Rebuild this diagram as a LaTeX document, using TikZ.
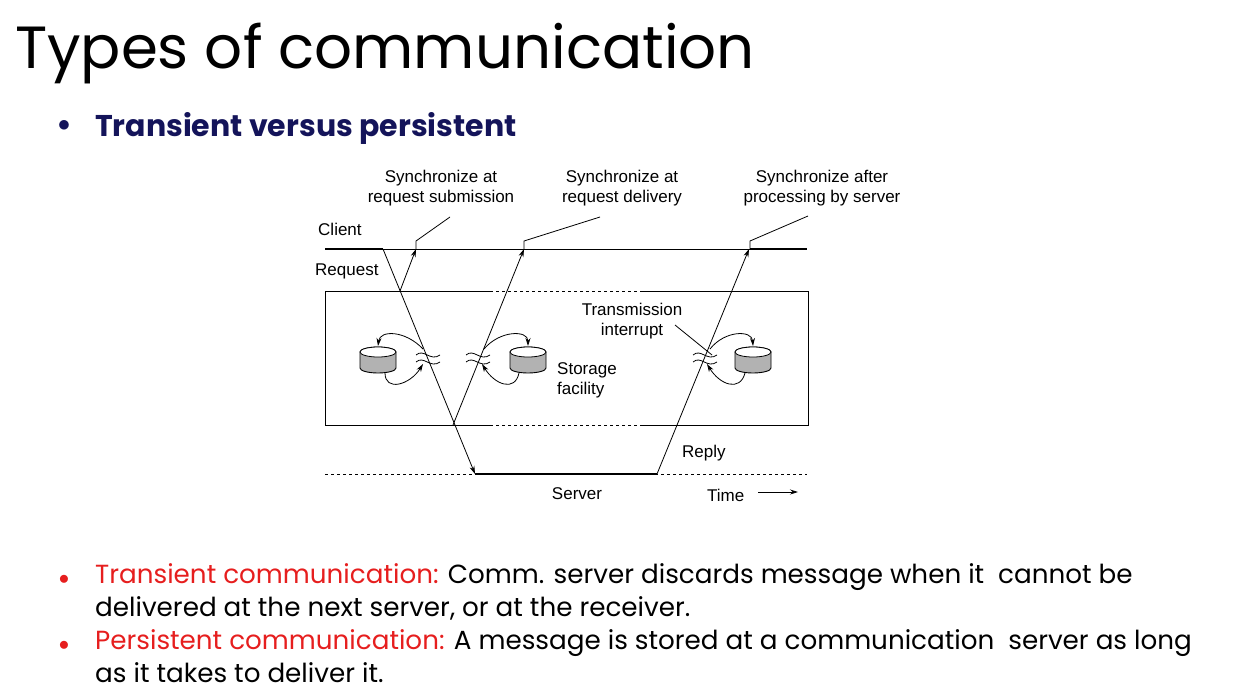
\documentclass[tikz,border=0pt]{standalone}
\usepackage{fontspec}
\setmainfont{Liberation Sans}
\newfontfamily\gothic{Poppins}
\usetikzlibrary{arrows.meta}
\definecolor{navy}{RGB}{20,20,90}
\definecolor{slred}{RGB}{230,30,30}
\begin{document}
\begin{tikzpicture}[x=1pt,y=-1pt,
  lbl/.style={font=\fontsize{17}{20}\selectfont, inner sep=0pt, align=center},
  ln/.style={line width=0.8pt},
  thick line/.style={line width=2pt},
  arr/.style={ln,-{Stealth[length=8pt,width=5pt]}},
  cyl/.style={draw,fill=gray!60,line width=0.9pt},
  body/.style={font=\gothic\fontsize{26.2}{33}\selectfont, inner sep=0pt, anchor=north west, align=left}]
\useasboundingbox (0,0) rectangle (1234,696);
\node[anchor=base west,inner sep=0pt,font=\gothic\fontsize{59.5}{60}\selectfont] (title) at (15,68) {Types of communication};
\node[anchor=base west,inner sep=0pt,font=\gothic\bfseries\fontsize{30}{30}\selectfont,text=navy] (sub) at (95,136) {Transient versus persistent};
\node[font=\gothic\fontsize{24}{24}\selectfont,text=navy] (b0) at (64,126) {$\bullet$};
% lines
\coordinate (c0) at (325,249); \coordinate (c1) at (807,249);
\draw[ln] (c0) -- (c1);
\draw[thick line] (325,249) -- (383,249);
\draw[thick line] (750,249) -- (807,249);
\draw[ln] (490,291) -- (325,291) -- (325,425) -- (490,425);
\draw[ln] (643,291) -- (808,291) -- (808,425) -- (643,425);
\draw[ln,dashed] (490,291) -- (643,291);
\draw[ln,dashed] (643,425) -- (490,425);
\draw[ln,dashed] (325,474) -- (807,474);
\draw[thick line] (475,474) -- (657,474);
% messages
\coordinate (rq0) at (383,249); \coordinate (rq1) at (475,474);
\draw[arr] (rq0) -- (rq1);
\coordinate (a0) at (400,291); \coordinate (t1) at (416,249);
\draw[arr] (a0) -- (t1);
\coordinate (b0s) at (453,425); \coordinate (t2) at (524,249);
\draw[arr] (b0s) -- (t2);
\coordinate (r0) at (657,474); \coordinate (t3) at (749,249);
\draw[arr] (r0) -- (t3);
% ticks & leaders
\draw[ln] (416,249) -- (416,241) -- (450,217);
\draw[ln] (524,249) -- (524,241) -- (600,217);
\draw[ln] (750,249) -- (750,241) -- (808,216);
% labels
\node[lbl] (s1) at (441,188) {Synchronize at\\request submission};
\node[lbl] (s2) at (622,188) {Synchronize at\\request delivery};
\node[lbl] (s3) at (822,188) {Synchronize after\\processing by server};
\node[lbl,anchor=west] (cl) at (318,229) {Client};
\node[lbl,anchor=west] (req) at (315,271) {Request};
\node[lbl] (ti) at (632,321) {Transmission\\interrupt};
\draw[ln] (675,325) -- (712,355);
\node[lbl,align=left,anchor=west] (sf) at (557,380) {Storage\\facility};
\node[lbl,anchor=west] (rp) at (682,453) {Reply};
\node[lbl] (sv) at (577,494) {Server};
\node[lbl,anchor=west] (tm) at (707,495) {Time};
\draw[arr] (758,492) -- (798,492);
% storage units
\foreach \cx/\wx in {378/428, 528/478, 753/705}{
  \draw[cyl] (\cx-18,352) -- (\cx-18,368) arc[start angle=180,end angle=0,x radius=18,y radius=5] -- (\cx+18,352) arc[start angle=0,end angle=-180,x radius=18,y radius=5] -- cycle;
  \draw[ln,fill=white] (\cx,352) ellipse[x radius=18,y radius=5];
  \foreach \dy in {0,7}{
    \draw[ln] (\wx-12,355+\dy) .. controls (\wx-4,348+\dy) and (\wx+2,362+\dy) .. (\wx+12,355+\dy);
  }
}
% curved arrows
\draw[arr] (423,349) .. controls (405,330) and (380,330) .. (378,346);
\draw[arr] (385,373) .. controls (385,392) and (410,385) .. (423,364);
\draw[arr] (484,349) .. controls (500,330) and (528,330) .. (528,346);
\draw[arr] (519,373) .. controls (515,392) and (495,385) .. (482,364);
\draw[arr] (710,349) .. controls (725,330) and (752,330) .. (753,346);
\draw[arr] (745,373) .. controls (740,392) and (720,385) .. (707,364);
% bottom text
\node[text=slred,font=\fontsize{22}{22}\selectfont] (d1) at (64,580) {$\bullet$};
\node[body] (t1b) at (95,563) {\textcolor{slred}{Transient communication:} Comm. server discards message when it\ \ cannot be\\delivered at the next server, or at the receiver.};
\node[text=slred,font=\fontsize{22}{22}\selectfont] (d2) at (64,646) {$\bullet$};
\node[body] (t2b) at (95,629) {\textcolor{slred}{Persistent communication:} A message is stored at a communication\ \ server as long\\as it takes to deliver it.};
\end{tikzpicture}
\end{document}
